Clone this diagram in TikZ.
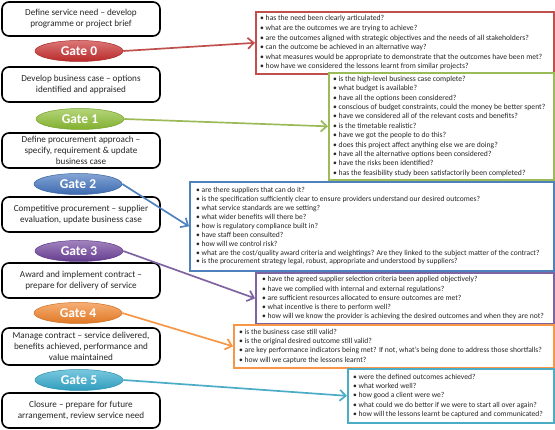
\documentclass[tikz,border=0pt]{standalone}
\usepackage{fontspec}
\setmainfont{Carlito}
\usetikzlibrary{arrows.meta,shapes.geometric}
\definecolor{cR}{HTML}{C0504D}
\definecolor{cG}{HTML}{9BBB59}
\definecolor{cB}{HTML}{4F81BD}
\definecolor{cP}{HTML}{8064A2}
\definecolor{cO}{HTML}{F79646}
\definecolor{cC}{HTML}{4BACC6}
\definecolor{gR}{RGB}{200,45,45}
\definecolor{gG}{RGB}{140,190,50}
\definecolor{gB}{RGB}{65,115,190}
\definecolor{gP}{RGB}{110,65,155}
\definecolor{gO}{RGB}{242,130,40}
\definecolor{gC}{RGB}{50,170,205}
\definecolor{txt}{HTML}{262626}
\tikzset{
  stage/.style={draw=black, rounded corners=7pt, line width=1.6pt, fill=white,
    minimum width=158pt, inner sep=0pt, align=center, text=txt,
    font=\fontsize{9.15}{11}\selectfont},
  gate/.style={ellipse, draw=#1!85!black, line width=0.5pt, minimum width=88pt,
    minimum height=21pt, inner sep=0pt, text=white,
    top color=#1!65!white, bottom color=#1!92!black,
    font=\bfseries\fontsize{13.5}{13.5}\selectfont},
  qbox/.style={draw=#1, line width=1.7pt, fill=white, anchor=north west, inner sep=0pt},
  qtext/.style={anchor=west, align=left, inner sep=0pt, text=txt},
  link/.style={draw=#1, line width=1.7pt, -{Straight Barb[length=6pt,width=11pt]}},
}
\begin{document}
\begin{tikzpicture}[x=1pt,y=-1pt]
\useasboundingbox (0,0) rectangle (555,430);
% stages
\node[stage, minimum height=34pt] (s1) at (81,19) {Define service need – develop\\programme or project brief};
\node[stage, minimum height=35pt] (s2) at (81,84.5) {Develop business case – options\\identified and appraised};
\node[stage, minimum height=35pt] (s3) at (81,150.5) {Define procurement approach –\\specify, requirement \& update\\business case};
\node[stage, minimum height=35pt] (s4) at (81,214.5) {Competitive procurement – supplier\\evaluation, update business case};
\node[stage, minimum height=35pt] (s5) at (81,280.5) {Award and implement contract –\\prepare for delivery of service};
\node[stage, minimum height=37pt] (s6) at (81,346.5) {Manage contract – service delivered,\\benefits achieved, performance and\\value maintained};
\node[stage, minimum height=35pt] (s7) at (81,410.5) {Closure – prepare for future\\arrangement, review service need};
% gates
\node[gate=gR] (g0) at (79,51) {Gate 0};
\node[gate=gG] (g1) at (80,119) {Gate 1};
\node[gate=gB] (g2) at (78,184) {Gate 2};
\node[gate=gP] (g3) at (79,251) {Gate 3};
\node[gate=gO] (g4) at (78,313) {Gate 4};
\node[gate=gC] (g5) at (79,380) {Gate 5};
% question boxes
\node[qbox=cR, minimum width=298pt, minimum height=62pt] (r0) at (255,11) {};
\node[qtext, font=\fontsize{7.65}{9.6}\selectfont] (t0) at ([xshift=5pt]r0.west) {%
• has the need been clearly articulated?\\
• what are the outcomes we are trying to achieve?\\
• are the outcomes aligned with strategic objectives and the needs of all stakeholders?\\
• can the outcome be achieved in an alternative way?\\
• what measures would be appropriate to demonstrate that the outcomes have been met?\\
• how have we considered the lessons learnt from similar projects?};
\node[qbox=cG, minimum width=225pt, minimum height=107pt] (r1) at (328,72) {};
\node[qtext, font=\fontsize{7.65}{9.4}\selectfont] (t1) at ([xshift=5pt]r1.west) {%
• is the high-level business case complete?\\
• what budget is available?\\
• have all the options been considered?\\
• conscious of budget constraints, could the money be better spent?\\
• have we considered all of the relevant costs and benefits?\\
• is the timetable realistic?\\
• have we got the people to do this?\\
• does this project affect anything else we are doing?\\
• have all the alternative options been considered?\\
• have the risks been identified?\\
• has the feasibility study been satisfactorily been completed?};
\node[qbox=cB, minimum width=364pt, minimum height=89pt] (r2) at (189,181) {};
\node[qtext, font=\fontsize{7.55}{8.9}\selectfont] (t2) at ([xshift=7pt]r2.west) {%
• are there suppliers that can do it?\\
• is the specification sufficiently clear to ensure providers understand our desired outcomes?\\
• what service standards are we setting?\\
• what wider benefits will there be?\\
• how is regulatory compliance built in?\\
• have staff been consulted?\\
• how will we control risk?\\
• what are the cost/quality award criteria and weightings? Are they linked to the subject matter of the contract?\\
• is the procurement strategy legal, robust, appropriate and understood by suppliers?};
\node[qbox=cP, minimum width=298pt, minimum height=51pt] (r3) at (255,272) {};
\node[qtext, font=\fontsize{7.6}{9.2}\selectfont] (t3) at ([xshift=7pt]r3.west) {%
• have the agreed supplier selection criteria been applied objectively?\\
• have we complied with internal and external regulations?\\
• are sufficient resources allocated to ensure outcomes are met?\\
• what incentive is there to perform well?\\
• how will we know the provider is achieving the desired outcomes and when they are not?};
\node[qbox=cO, minimum width=320pt, minimum height=43pt] (r4) at (233,324) {};
\node[qtext, font=\fontsize{7.6}{9.2}\selectfont] (t4) at ([xshift=6pt]r4.west) {%
• is the business case still valid?\\
• is the original desired outcome still valid?\\
• are key performance indicators being met? If not, what’s being done to address those shortfalls?\\
• how will we capture the lessons learnt?};
\node[qbox=cC, minimum width=206pt, minimum height=54pt] (r5) at (347,368) {};
\node[qtext, font=\fontsize{7.55}{9.4}\selectfont] (t5) at ([xshift=6pt]r5.west) {%
• were the defined outcomes achieved?\\
• what worked well?\\
• how good a client were we?\\
• what could we do better if we were to start all over again?\\
• how will the lessons learnt be captured and communicated?};
% links
\draw[link=cR] (g0.east) -- (r0.west);
\draw[link=cG] (g1.east) -- (r1.west);
\draw[link=cB] (g2.east) -- (r2.west);
\draw[link=cP] (g3.east) -- (r3.west);
\draw[link=cO] (g4.east) -- (r4.west);
\draw[link=cC] (g5.east) -- (r5.west);
\end{tikzpicture}
\end{document}
